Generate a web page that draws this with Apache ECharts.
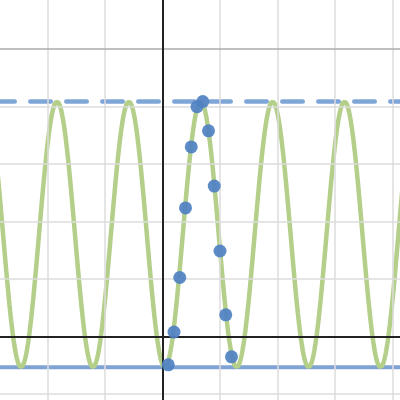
<!DOCTYPE html>
<html>
<head>
<meta charset="utf-8">
<script src="https://cdn.jsdelivr.net/npm/echarts@6/dist/echarts.min.js"></script>
<style>
  html, body { margin: 0; padding: 0; background: #fff; }
  #chart { width: 400px; height: 400px; }
</style>
</head>
<body>
<div id="chart"></div>
<script>
// measured points
var xValues = [0.1, 0.2, 0.3, 0.4, 0.5, 0.6, 0.7, 0.8, 0.9, 1.0, 1.1, 1.2];
var yValues = [-0.49, 0.08, 1.03, 2.24, 3.30, 4.00, 4.09, 3.58, 2.62, 1.49, 0.38, -0.35];

// reference lines (max dashed, min solid)
var maxLine = 4.09;
var minLine = -0.53;

// fitted cosine, parameters
var midline = 1.78;
var amplitude = 2.31;
var period = 1.25;
var troughAt = 0.04;

// visible window and grid
var xRange = [-2.826, 4.13];
var yRange = [-1.101, 5.856];
var xGridLines = [-2, -1, 1, 2, 3, 4];
var yGridLines = [-1, 1, 2, 3, 4];
var yMajorLines = [5];

window.onload = function () {
    var dom = document.getElementById('chart');
    var myChart = echarts.init(dom);

    var points = xValues.map(function (x, i) { return [x, yValues[i]]; });

    // the curve runs a bit past the window, the grid clips it
    var curve = [];
    for (var x = xRange[0] - 0.2; x <= xRange[1] + 0.2; x += 0.005) {
        curve.push([x, midline - amplitude * Math.cos(2 * Math.PI * (x - troughAt) / period)]);
    }

    var minor = { color: '#dddddd', width: 1.5, type: 'solid' };
    var major = { color: '#ababab', width: 1.5, type: 'solid' };
    var axisStyle = { color: '#222222', width: 2, type: 'solid' };

    var gridMarks = []
        .concat(xGridLines.map(function (v) { return { xAxis: v, lineStyle: minor }; }))
        .concat(yGridLines.map(function (v) { return { yAxis: v, lineStyle: minor }; }))
        .concat(yMajorLines.map(function (v) { return { yAxis: v, lineStyle: major }; }));

    var option = {
        animation: false,
        grid: { left: 0, right: 0, top: 0, bottom: 0, containLabel: false },
        xAxis: { type: 'value', min: xRange[0], max: xRange[1], show: false },
        yAxis: { type: 'value', min: yRange[0], max: yRange[1], show: false },
        series: [
            {
                // grid + axes
                type: 'line',
                data: [],
                z: 1,
                markLine: {
                    silent: true,
                    symbol: 'none',
                    label: { show: false },
                    data: gridMarks.concat([
                        { xAxis: 0, lineStyle: axisStyle },
                        { yAxis: 0, lineStyle: axisStyle }
                    ])
                }
            },
            {
                name: 'max',
                type: 'line',
                z: 3,
                showSymbol: false,
                data: [[xRange[0], maxLine], [xRange[1], maxLine]],
                lineStyle: { color: '#7fa6d6', width: 4.5, type: [20.5, 15.5], dashOffset: 5.75, cap: 'round' }
            },
            {
                name: 'min',
                type: 'line',
                z: 3,
                showSymbol: false,
                data: [[xRange[0], minLine], [xRange[1], minLine]],
                lineStyle: { color: '#7fa3d3', width: 4 }
            },
            {
                name: 'fit',
                type: 'line',
                z: 4,
                showSymbol: false,
                data: curve,
                lineStyle: { color: '#b4cf89', width: 4.5 }
            },
            {
                name: 'data',
                type: 'scatter',
                z: 5,
                symbolSize: 13,
                data: points,
                itemStyle: { color: '#4f81c2', opacity: 0.92 }
            }
        ]
    };
    myChart.setOption(option, true);
};
</script>
</body>
</html>
